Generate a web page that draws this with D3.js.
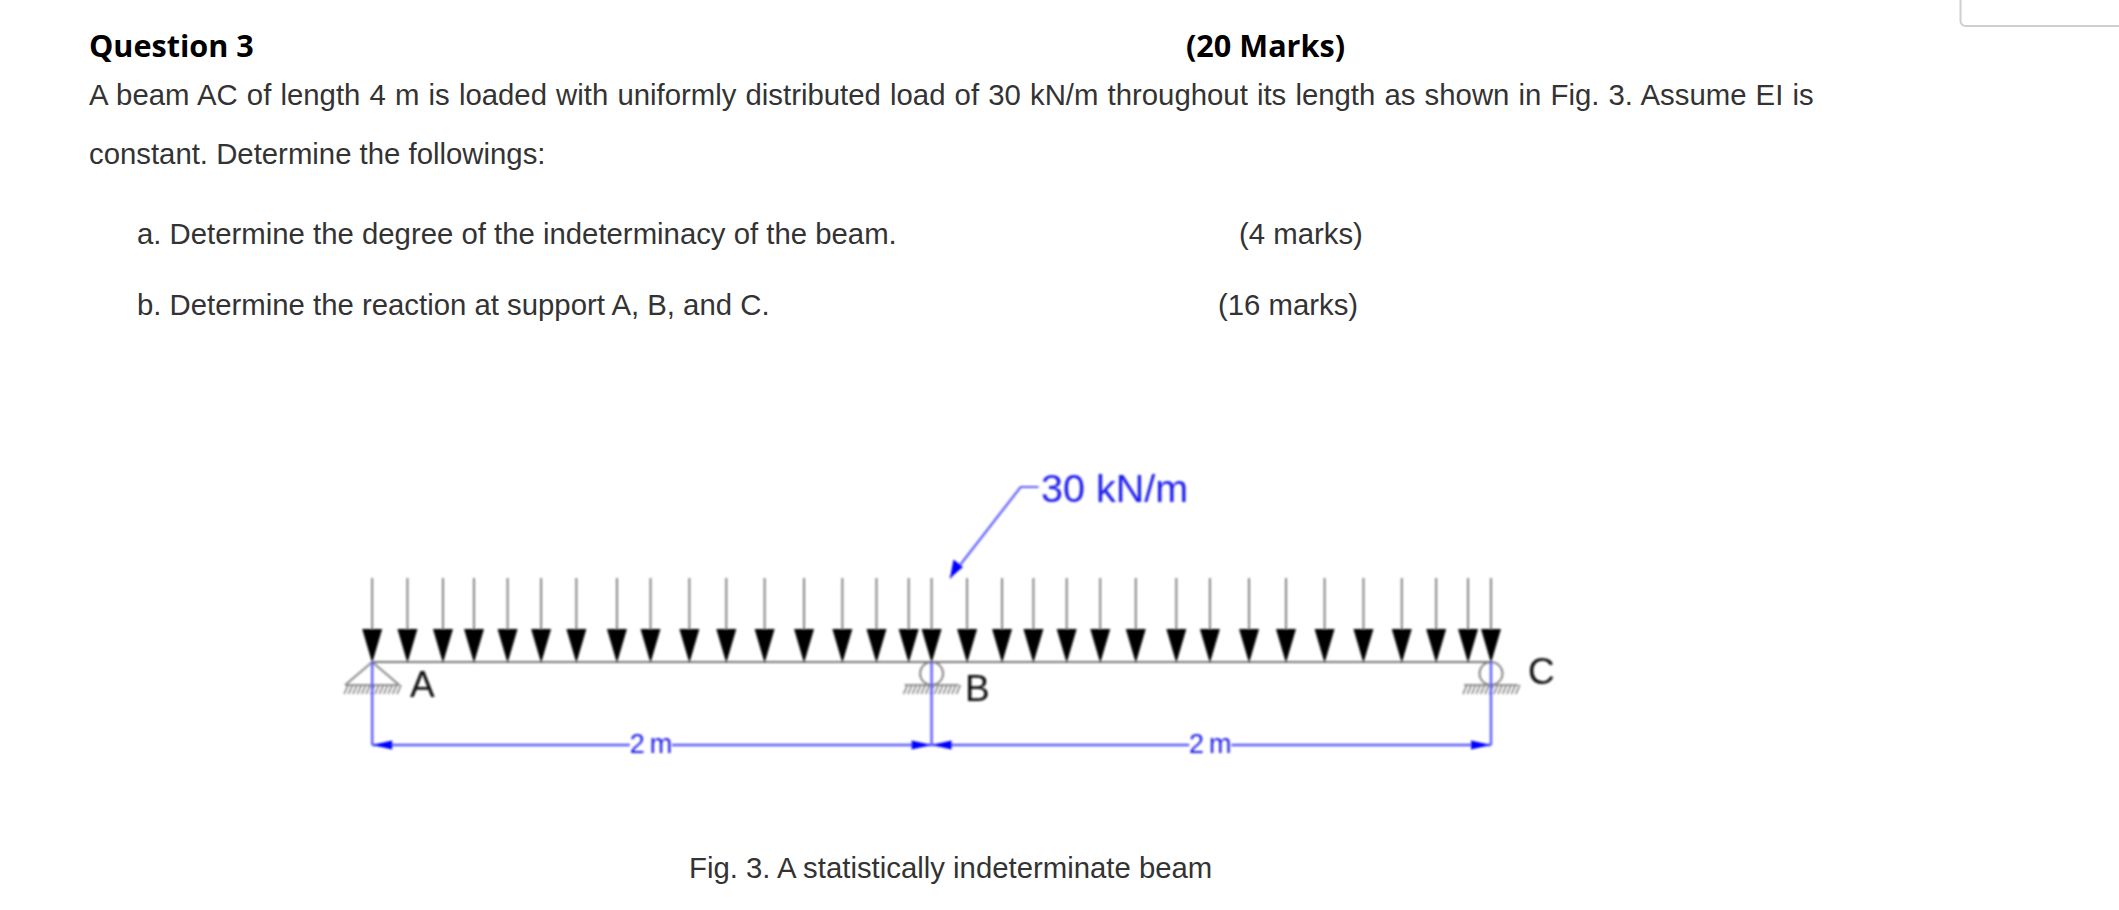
<!DOCTYPE html>
<html>
<head>
<meta charset="utf-8">
<style>
	html, body { margin: 0; padding: 0; background: #fff; }
	svg { display: block; }
</style>
<script src="https://cdn.jsdelivr.net/npm/d3@7"></script>
</head>
<body>
<svg id="page" width="2119" height="910"></svg>
<script>
// load arrows along the beam, metres from A (spacing is uneven in the drawing)
var loadPositions = [0, 0.126, 0.253, 0.364, 0.484, 0.604, 0.730, 0.875, 0.995, 1.134, 1.266, 1.403, 1.544, 1.681, 1.803, 1.918, 2,
	2.127, 2.252, 2.364, 2.483, 2.603, 2.730, 2.875, 2.995, 3.135, 3.267, 3.405, 3.544, 3.681, 3.804, 3.918, 4];
var supportNames = ["A", "B", "C"];
var supportPositions = [0, 2, 4];
var spanLabels = ["2 m", "2 m"];
var loadLabel = "30 kN/m";

var headings = ["Question 3", "(20 Marks)"];
var bodyLines = [
	"A beam AC of length 4 m is loaded with uniformly distributed load of 30 kN/m throughout its length as shown in Fig. 3. Assume EI is",
	"constant. Determine the followings:",
	"a. Determine the degree of the indeterminacy of the beam.",
	"(4 marks)",
	"b. Determine the reaction at support A, B, and C.",
	"(16 marks)",
	"Fig. 3. A statistically indeterminate beam"
];

var BLUE = "#5c5cff";
var svg = d3.select("#page");

var x = d3.scaleLinear().domain([0, 4]).range([372.2, 1491]);
var beamY = 662, loadTop = 578, headTop = 629, dimY = 745, groundY = 685;

var defs = svg.append("defs");
defs.append("filter").attr("id", "soft")
	.append("feGaussianBlur").attr("stdDeviation", 0.8);

// page text
var headData = [
	{t: headings[0], x: 89, y: 57},
	{t: headings[1], x: 1186, y: 57}
];
svg.selectAll("text.head").data(headData).enter().append("text")
	.attr("class", "head")
	.attr("x", function(d){ return d.x; })
	.attr("y", function(d){ return d.y; })
	.attr("font-family", "'Open Sans'")
	.attr("font-weight", 700)
	.attr("font-size", 30.6)
	.attr("fill", "#000")
	.text(function(d){ return d.t; });

var bodyPos = [[89, 105], [89, 164], [137, 244], [1239, 244], [137, 315], [1218, 315], [689, 878]];
svg.selectAll("text.body").data(bodyLines).enter().append("text")
	.attr("class", "body")
	.attr("x", function(d, i){ return bodyPos[i][0]; })
	.attr("y", function(d, i){ return bodyPos[i][1]; })
	.attr("font-family", "'Liberation Sans'")
	.attr("font-size", 29.33)
	.attr("word-spacing", function(d, i){ return i === 0 ? 1 : 0; })
	.attr("fill", "#333")
	.text(function(d){ return d; });

// corner of the box cut by the top of the screenshot
svg.append("path")
	.attr("d", "M1960.5,-4V21a5,5 0 0 0 5,5H2125")
	.attr("fill", "none")
	.attr("stroke", "#cfcfcf")
	.attr("stroke-width", 2);

// the figure
var fig = svg.append("g").attr("filter", "url(#soft)");

// supports go first so the beam sits on top
var ground = fig.selectAll("g.ground").data(supportPositions).enter().append("g")
	.attr("class", "ground")
	.attr("transform", function(d){ return "translate(" + x(d) + "," + groundY + ")"; });
ground.append("line")
	.attr("x1", -27).attr("x2", 27)
	.attr("stroke", "#777").attr("stroke-width", 1.6);
ground.selectAll("line.hatch").data(d3.range(-24, 29, 4.4)).enter().append("line")
	.attr("class", "hatch")
	.attr("x1", function(d){ return d; })
	.attr("y1", 0)
	.attr("x2", function(d){ return d - 4; })
	.attr("y2", 9)
	.attr("stroke", "#777").attr("stroke-width", 1.5);

fig.append("path")
	.attr("d", "M" + x(0) + "," + beamY + "L" + (x(0) - 27) + "," + groundY + "M" + x(0) + "," + beamY + "L" + (x(0) + 27) + "," + groundY)
	.attr("fill", "none").attr("stroke", "#888").attr("stroke-width", 2);

fig.selectAll("circle.roller").data(supportPositions.slice(1)).enter().append("circle")
	.attr("class", "roller")
	.attr("cx", function(d){ return x(d); })
	.attr("cy", beamY + 11.5)
	.attr("r", 11.5)
	.attr("fill", "none").attr("stroke", "#888").attr("stroke-width", 2);

// beam
fig.append("line")
	.attr("x1", x(0)).attr("x2", x(4))
	.attr("y1", beamY).attr("y2", beamY)
	.attr("stroke", "#777").attr("stroke-width", 2.2);

// UDL arrows
var loads = fig.selectAll("g.load").data(loadPositions).enter().append("g")
	.attr("class", "load")
	.attr("transform", function(d){ return "translate(" + x(d) + ",0)"; });
loads.append("line")
	.attr("y1", loadTop).attr("y2", headTop)
	.attr("stroke", "#777").attr("stroke-width", 1.8);
loads.append("path")
	.attr("d", "M-10," + headTop + "H10L0," + (beamY + 1) + "Z")
	.attr("fill", "#000");

// dimension lines
fig.selectAll("line.ext").data(supportPositions).enter().append("line")
	.attr("class", "ext")
	.attr("x1", function(d){ return x(d); })
	.attr("x2", function(d){ return x(d); })
	.attr("y1", beamY).attr("y2", dimY)
	.attr("stroke", BLUE).attr("stroke-width", 2.4);

var spans = fig.selectAll("g.span").data(spanLabels).enter().append("g").attr("class", "span");
spans.each(function(d, i) {
	var g = d3.select(this);
	var a = x(supportPositions[i]), b = x(supportPositions[i + 1]), mid = (a + b) / 2 - 1;
	g.append("path")
		.attr("d", "M" + a + "," + dimY + "H" + (mid - 21) + "M" + (mid + 21) + "," + dimY + "H" + b)
		.attr("stroke", BLUE).attr("stroke-width", 2.4).attr("fill", "none");
	g.append("path")
		.attr("d", "M" + a + "," + dimY + "l20,-4.5v9Z" + "M" + b + "," + dimY + "l-20,-4.5v9Z")
		.attr("fill", "#0000ff");
	g.append("text")
		.attr("x", mid)
		.attr("y", dimY + 8)
		.attr("text-anchor", "middle")
		.attr("font-family", "'Liberation Sans'")
		.attr("font-size", 27)
		.attr("word-spacing", -2.5)
		.attr("fill", "#1c1cf0")
		.text(d);
});

// leader for the load value
fig.append("path")
	.attr("d", "M1038.5,487H1020.6L950,578")
	.attr("fill", "none").attr("stroke", BLUE).attr("stroke-width", 2.2);
fig.append("path")
	.attr("d", "M950,578L953.5,559.5L963,567Z")
	.attr("fill", "#0000ff");
fig.append("text")
	.attr("x", 1041)
	.attr("y", 502)
	.attr("font-family", "'Liberation Sans'")
	.attr("font-size", 39.5)
	.attr("fill", "#1c1cf0")
	.text(loadLabel);

// support letters
var letterPos = [[410, 697], [965, 701], [1528, 684]];
fig.selectAll("text.letter").data(supportNames).enter().append("text")
	.attr("class", "letter")
	.attr("x", function(d, i){ return letterPos[i][0]; })
	.attr("y", function(d, i){ return letterPos[i][1]; })
	.attr("font-family", "'Liberation Sans'")
	.attr("font-size", 37)
	.attr("fill", "#111")
	.text(function(d){ return d; });
</script>
</body>
</html>
